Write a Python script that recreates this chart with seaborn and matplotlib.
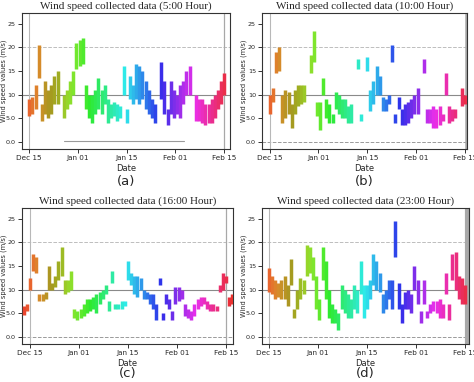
"""
Wind speed collected data, four hours of the day, Dec 15 - Feb 15
"""

import colorsys
import numpy as np
import pandas as pd
import seaborn as sns
import matplotlib.pyplot as plt

N = None

DAYS = list(range(-2, 65))  # day 0 = Dec 15, day 62 = Feb 15
X_TICKS = [0, 15.5, 31, 46.5, 62]
X_TICK_LABELS = ["Dec 15", "Jan 01", "Jan 15", "Feb 01", "Feb 15"]
Y_TICKS = [0, 5, 10, 15, 20, 25]
Y_TICK_LABELS = ["0.0", "5.0", "10", "15", "20", "25"]
HOURS = ["5:00", "10:00", "16:00", "23:00"]
TAGS = ["(a)", "(b)", "(c)", "(d)"]

# per day min / max of the wind speed (m/s), None = no data
LOW_A = [N, N, 5.5, 6, 7, 13.5, 4.5, 6, 5, 6, 8, 8,
         N, 5, 7, 8, 10, 15.5, 16, 16.5, 7, 5,
         4, 6, 7, 6, 8, 4, 5, 5.5, 4.5, 5,
         10, 4, 9, 8, 9, 8, 9, 7, 6, 5,
         4, N, 9, 6, 3.5, 6, 5, 6, 5, 8,
         10, 10, N, 4.5, 4.5, 4, 3.5, 4, 4, 5,
         7, 8, 10, N, N]
HIGH_A = [N, N, 9, 9.5, 12, 20.5, 8, 13, 11, 12, 14, 15,
          N, 10, 11, 13, 15, 21, 21.5, 22, 12, 10,
          10, 11, 13.5, 11, 12, 9, 8, 8.5, 8, 7.5,
          16, 7, 14, 12, 16.5, 16, 15, 13, 11, 9,
          8, N, 17, 13, 7, 13, 11, 10, 12, 13,
          15, 16, N, 10, 9, 9, 8, 8, 9, 10,
          11, 13, 14.5, N, N]

LOW_B = [N, N, 6, 8.5, 14.5, 15, 4, 5, 6, 3, 6, 7.5,
         8, 8.5, N, 14.5, 17, 5.5, 2.5, 10, 5, 4,
         4, 7, 6, 5, 5, 4, 4, N, 15.5, 4.5,
         N, 15, 6.5, 8, 10, 10, 6.5, 6.5, 8, 17,
         4, 7, 3.5, 3.5, 4, 5, 6, 6, N, 14.5,
         4, 4, 3, 3, 3.5, 4.5, 10, 4, 4.5, 5,
         N, 7.5, 8, N, N]
HIGH_B = [N, N, 10, 11.5, 19, 20, 10, 11, 10.5, 8, 11, 12,
          12, 12, N, 18.5, 23.5, 8.5, 8.5, 13.5, 9, 8,
          6, 10.5, 10, 9, 9, 7.5, 8, N, 17.5, 6,
          N, 18, 11, 13, 16, 14, 9.5, 9, 10, 20.5,
          6, 9.5, 7, 8, 8.5, 9, 10, 11.5, N, 17.5,
          7, 7, 7.5, 7, 7.5, 6, 14.5, 7.5, 7, 7,
          N, 11.5, 10, N, N]

LOW_C = [4.7, 5.5, 10, 14, 13.5, 7.5, 7.5, 8, 10, 10, 10.5, 12,
         13, 9, 9.5, 10, 4, 3.5, 4, 4.5, 5, 5.5,
         6, 5, 7, 8, 9, 5.5, 11.5, 6, 6, 6,
         6.5, 12, 11, 9, 8.5, 10, 8, 8, 7, 6,
         3.5, 11, 3.5, 7, 6, 3.5, 7, 7.5, 8, 4.5,
         4, 3.5, 4.5, 6, 6.5, 7, 6, 5.5, 5.5, 5.5,
         9.5, 10, 11.5, 6.5, 7]
HIGH_C = [6.5, 7, 12.5, 17.5, 17, 9, 9, 9.5, 15, 11.5, 13, 16,
          19, 12, 12, 14, 6, 5.5, 6, 7, 8, 8,
          8.5, 9, 9.5, 10, 11, 7.5, 14, 7, 7, 7.5,
          7.5, 16, 13.5, 13, 13, 12.5, 10, 9.5, 9, 9,
          7, 12.5, 5, 9, 8, 5.5, 10.5, 10.5, 10, 7,
          6, 5.5, 7, 8, 8.5, 8.5, 7.5, 7, 7, 6.5,
          11, 13.5, 13, 8.5, 9]

LOW_D = [N, N, 9.5, 9, 8, 8.5, 8, 8, 6.5, 11, 4, 6,
         8, 9, 13, 13.5, 12, 6, 3.5, 12, 8, 4,
         3, 3, 1.5, 6, 5, 4, 4, 6, 5, 9,
         4, 6, 8, 11, 10, 9.5, 5, 6, 8, 6,
         17, 6, 3, 6, 6, 5, 10, 7, 3, 7,
         4, 5, 5.5, 5, 4, 4, 9, 3.5, 12, 10,
         8, 7, 7, N, N]
HIGH_D = [N, N, 14.5, 13, 12, 11.5, 12, 13, 11, 16.5, 6, 10,
          12.5, 12, 19.5, 19, 17, 13, 8, 19, 16, 10,
          7, 6, 5, 11, 10, 9, 8, 11, 10, 16,
          11, 11, 12, 17.5, 16, 13.5, 9, 10, 12, 12,
          24.5, 11.5, 7, 9.5, 10, 9, 15, 12, 5.5, 12,
          5.5, 7, 7.5, 7.5, 8, 7, 13.5, 7, 17.5, 18,
          13, 12.5, 11, N, N]


def panel_df(low, high):
    rows = []
    for d, lo, hi in zip(DAYS, low, high):
        if lo is None:
            continue
        rows.append((d, lo))
        rows.append((d, hi))
    return pd.DataFrame(rows, columns=["day", "speed"])


def day_palette():
    # rainbow over the days, yellows darkened to olive like the original
    cols = sns.hls_palette(len(DAYS), h=0.02, l=0.55, s=0.82)
    out = {}
    for d, c in zip(DAYS, cols):
        h = colorsys.rgb_to_hls(*c)[0] * 360
        f = 1 - 0.3 * np.exp(-(((h - 58) / 22) ** 2))
        out[d] = tuple(np.clip(np.array(c) * f, 0, 1))
    return out


def draw_panel(ax, df, hour, xlim, palette, label_x, partial_zero=False,
               end_x=62, end_lw=0.9):
    ax.axhline(20, ls="--", color="#bdbdbd", lw=0.7, zorder=1)
    ax.axhline(10, color="#8a8a8a", lw=0.8, zorder=1)
    if partial_zero:
        ax.axhline(0.1, xmin=0.2, xmax=0.78, color="#9a9a9a", lw=0.8, zorder=1)
    else:
        ax.axhline(0, ls="--", color="#9a9a9a", lw=0.7, zorder=1)
    ax.axvline(0, color="#b8b8b8", lw=0.8, zorder=1)
    ax.axvline(end_x, color="#a8a8a8", lw=end_lw, zorder=1)

    sns.lineplot(data=df, x="day", y="speed", hue="day", units="day",
                 estimator=None, palette=palette, legend=False,
                 lw=2.5, solid_capstyle="butt", ax=ax, zorder=3)

    ax.set_xlim(*xlim)
    ax.set_ylim(-1.5, 27.3)
    ax.set_xticks(X_TICKS)
    ax.set_xticklabels(X_TICK_LABELS)
    ax.set_yticks(Y_TICKS)
    ax.set_yticklabels(Y_TICK_LABELS)
    ax.tick_params(length=3, width=0.7, color="#333333", pad=1.5)
    ax.tick_params(axis="x", labelsize=5.2)
    ax.tick_params(axis="y", labelsize=4.6)
    ax.set_xlabel("Date", fontsize=6, labelpad=2)
    ax.set_ylabel("Wind speed values (m/s)", fontsize=4.8)
    ax.yaxis.set_label_coords(label_x, 0.5)
    ax.set_title(f"Wind speed collected data ({hour} Hour)",
                 fontsize=8, family="Liberation Serif", pad=3)
    for s in ax.spines.values():
        s.set_color("#333333")
        s.set_linewidth(0.8)


def main():
    sns.set_style("ticks")
    fig = plt.figure(figsize=(4.74, 3.82), dpi=100)
    palette = day_palette()

    rects = [
        [0.0464, 0.610, 0.4386, 0.356],
        [0.553, 0.610, 0.432, 0.356],
        [0.0464, 0.0995, 0.4452, 0.356],
        [0.553, 0.0995, 0.4367, 0.356],
    ]
    xlims = [(-2.3, 63.8), (-2.4, 62.7), (-2.5, 64.2), (-2.1, 63.3)]
    data = [(LOW_A, HIGH_A), (LOW_B, HIGH_B), (LOW_C, HIGH_C), (LOW_D, HIGH_D)]
    ends = [(62, 0.9), (62.3, 1.8), (62, 0.9), (62.65, 3.0)]
    label_xs = [-0.071, -0.075, -0.070, -0.075]
    tag_y = [0.524, 0.524, 0.021, 0.021]

    for i in range(4):
        ax = fig.add_axes(rects[i])
        df = panel_df(*data[i])
        draw_panel(ax, df, HOURS[i], xlims[i], palette, label_xs[i],
                   partial_zero=(i == 0), end_x=ends[i][0], end_lw=ends[i][1])
        cx = rects[i][0] + rects[i][2] / 2
        fig.text(cx, tag_y[i], TAGS[i], ha="center", va="center", fontsize=9.5)

    fig.savefig("out.png", dpi=100)


if __name__ == "__main__":
    main()
